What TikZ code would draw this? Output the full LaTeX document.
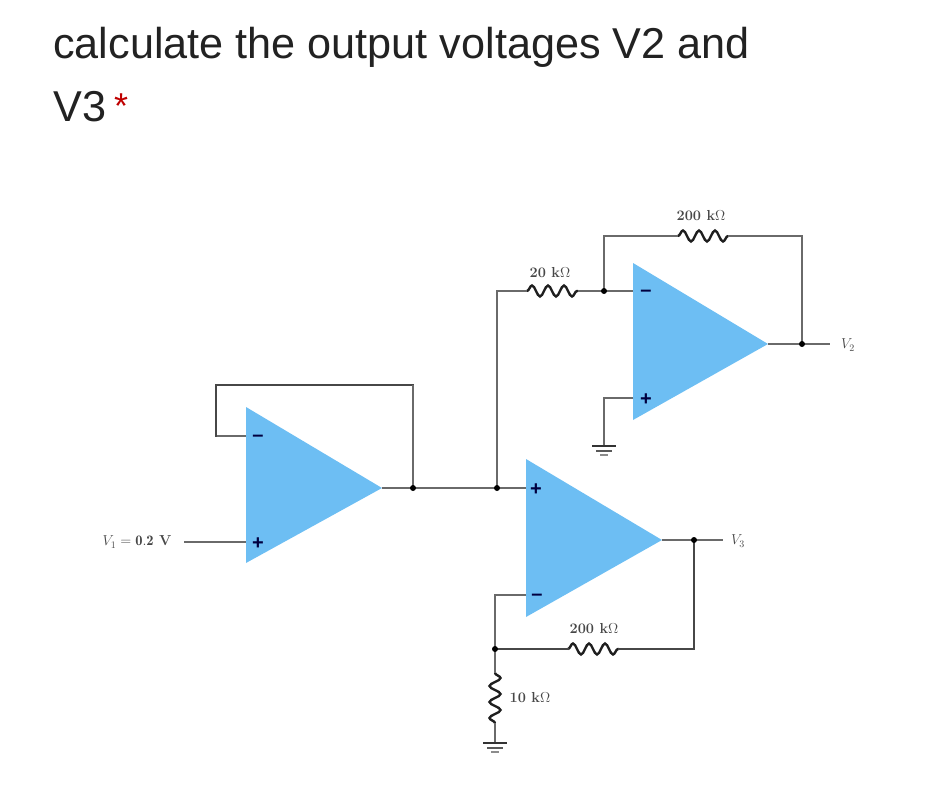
\documentclass[tikz,border=0pt]{standalone}
\usepackage{fontspec}
\setsansfont{Liberation Sans}
\usetikzlibrary{decorations.pathmorphing}
\definecolor{opblue}{HTML}{6DBEF3}
\definecolor{wiregray}{HTML}{6A6A6A}
\definecolor{titlegray}{HTML}{222222}
\tikzset{
	wire/.style={draw=wiregray, line width=1.4pt},
	wirebold/.style={draw=black!72, line width=1.9pt, line cap=rect},
	opamp/.style={fill=opblue},
	res/.style={draw=black!88, line width=2.4pt, line cap=round,
		decorate, decoration={snake, segment length=16pt, amplitude=5.5pt}},
	pin/.style={text=black!75!blue, font=\sffamily\bfseries\fontsize{20}{20}\selectfont, inner sep=0pt},
	val/.style={text=black!72, font=\bfseries\fontsize{14.5}{16}\selectfont, inner sep=0pt},
	title/.style={text=titlegray, anchor=base west, inner sep=0pt, font=\sffamily\fontsize{43.2}{43}\selectfont},
	gnd/.pic={
		\draw[line width=2.2pt, black!80] (-12,0) -- (12,0);
		\draw[line width=2pt, black!65] (-8,5) -- (8,5);
		\draw[line width=1.8pt, black!45] (-4,9) -- (4,9);
	}
}
\begin{document}
\begin{tikzpicture}[x=1pt, y=-1pt]
	\useasboundingbox (0,0) rectangle (928,810);
	\node[title] (head1) at (53,59) {calculate the output voltages V2 and};
	\node[title] (head2) at (53,122) {V3\hspace{8pt}\textcolor{red!75!black}{\raisebox{3pt}{\fontsize{36}{36}\selectfont *}}};

	% amplifiers
	\coordinate (a1) at (246,407);
	\coordinate (b1) at (246,563);
	\coordinate (out1) at (382,488);
	\coordinate (a2) at (633,263);
	\coordinate (b2) at (633,420);
	\coordinate (out2) at (768,344);
	\coordinate (a3) at (526,459);
	\coordinate (b3) at (526,617);
	\coordinate (out3) at (662,540);
	\fill[opamp] (a1) -- (b1) -- (out1) -- cycle;
	\fill[opamp] (a2) -- (b2) -- (out2) -- cycle;
	\fill[opamp] (a3) -- (b3) -- (out3) -- cycle;

	% pins
	\coordinate (minus1) at (246,436);
	\coordinate (plus1) at (246,542);
	\coordinate (minus2) at (633,291);
	\coordinate (plus2) at (633,398);
	\coordinate (plus3) at (526,488);
	\coordinate (minus3) at (526,595);
	\node[pin] (m1) at (258,438) {--};
	\node[pin] (p1) at (258,544) {+};
	\node[pin] (m2) at (646,293) {--};
	\node[pin] (p2) at (646,400) {+};
	\node[pin] (p3) at (536,490) {+};
	\node[pin] (m3) at (537,597) {--};

	% junctions
	\coordinate (j1) at (413,488);
	\coordinate (j2) at (497,488);
	\coordinate (j3) at (604,291);
	\coordinate (j4) at (802,344);
	\coordinate (j5) at (694,540);
	\coordinate (j6) at (495,649);

	% resistors
	\coordinate (r1a) at (527,291);
	\coordinate (r1b) at (578,291);
	\coordinate (r2a) at (678,236);
	\coordinate (r2b) at (728,236);
	\coordinate (r3a) at (568,649);
	\coordinate (r3b) at (619,649);
	\coordinate (r4a) at (495,673);
	\coordinate (r4b) at (495,723);
	\draw[res] (r1a) -- (r1b);
	\draw[res] (r2a) -- (r2b);
	\draw[res] (r3a) -- (r3b);
	\draw[res] (r4a) -- (r4b);

	% free ends
	\coordinate (c1) at (216,385);
	\coordinate (c2) at (413,385);
	\coordinate (g2) at (604,446);
	\coordinate (g3) at (495,743);
	\coordinate (in1) at (184,542);
	\coordinate (end2) at (830,344);
	\coordinate (end3) at (723,540);

	\draw[wire] (minus1) -- (minus1 -| c1);
	\draw[wirebold] (minus1 -| c1) -- (c1) -- (c2);
	\draw[wire] (c2) -- (j1);
	\draw[wire] (in1) -- (plus1);
	\draw[wire] (out1) -- (j1) -- (j2) -- (plus3);
	\draw[wire] (j2) |- (r1a);
	\draw[wire] (r1b) -- (j3) -- (minus2);
	\draw[wire] (j3) |- (r2a);
	\draw[wire] (r2b) -| (j4);
	\draw[wire] (out2) -- (j4) -- (end2);
	\draw[wire] (plus2) -| (g2);
	\draw[wire] (out3) -- (j5) -- (end3);
	\draw[wirebold] (j5) |- (r3b);
	\draw[wirebold] (r3a) -- (j6);
	\draw[wire] (minus3) -| (j6);
	\draw[wire] (j6) -- (r4a);
	\draw[wire] (r4b) -- (g3);
	\pic at (g2) {gnd};
	\pic at (g3) {gnd};

	\fill[black] \foreach \s in {j1,j2,j3,j4,j5,j6}{(\s) circle (3pt)};

	% labels
	\node[val] (l1) at (137,542) {$V_1 = \mathbf{0.2}$ V};
	\node[val] (l2) at (550,273) {20 k$\Omega$};
	\node[val] (l3) at (701,216) {200 k$\Omega$};
	\node[val] (l4) at (848,345) {$V_2$};
	\node[val] (l5) at (738,541) {$V_3$};
	\node[val] (l6) at (594,629) {200 k$\Omega$};
	\node[val] (l7) at (530,698) {10 k$\Omega$};
\end{tikzpicture}
\end{document}
